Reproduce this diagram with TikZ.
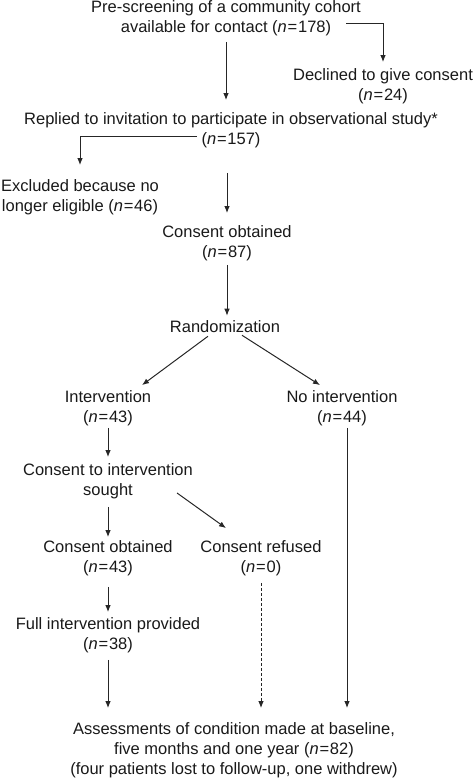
\documentclass[tikz,border=0pt]{standalone}
\usepackage{fontspec}
\setmainfont{Liberation Sans}
\usetikzlibrary{arrows.meta}
\newcommand{\nval}[1]{(\textit{n}\hspace{0.8pt}=\hspace{0.8pt}#1)}

\begin{document}
\begin{tikzpicture}[x=1pt, y=-1pt,
  every node/.style={align=center, inner sep=0pt, text=black!90,
    font=\fontsize{16.5}{20}\selectfont},
  arr/.style={draw=black!85, line width=1pt, -{Latex[length=7pt,width=5.5pt]}},
  toassess/.style={shorten >=14pt}]
  \useasboundingbox (0,0) rectangle (474,778);
  % screening stage
  \node (pre) at (226,18) {Pre-screening of a community cohort\\available for contact \nval{178}};
  \node (decl) at (383,86) {Declined to give consent\\\nval{24}};
  \node (repl) at (231,130) {Replied to invitation to participate in observational study*\\\nval{157}};
  \node (excl) at (80,197) {Excluded because no\\longer eligible \nval{46}};
  \node (cons) at (227,243) {Consent obtained\\\nval{87}};
  \node (rand) at (225,327) {Randomization};
  % the two arms
  \node (interv) at (108,408) {Intervention\\\nval{43}};
  \node (nointerv) at (342,408) {No intervention\\\nval{44}};
  \node (sought) at (108,481) {Consent to intervention\\sought};
  \node (cobt) at (108,558) {Consent obtained\\\nval{43}};
  \node (cref) at (261,558) {Consent refused\\\nval{0}};
  \node (full) at (108,635) {Full intervention provided\\\nval{38}};
  \node (assess) at (234,750) {Assessments of condition made at baseline,\\five months and one year \nval{82}\\(four patients lost to follow-up, one withdrew)};

  \draw[arr, shorten <=6pt, shorten >=12pt] (pre.south) -- (pre.south |- repl.north);
  \draw[arr, shorten >=6pt] ([xshift=-15pt,yshift=-6pt]pre.east) -| (decl.north);
  \draw[arr, shorten >=14pt] ([xshift=-34pt,yshift=-7pt]repl.center) -| (excl.north);
  \draw[arr, shorten <=25pt, shorten >=12pt] (repl.south -| cons.north) -- (cons.north);
  \draw[arr, shorten <=4pt, shorten >=5pt] (cons.south) -- (cons.south |- rand.north);
  \draw[arr] ([xshift=-17pt,yshift=-3pt]rand.south) -- ([xshift=34pt,yshift=5pt]interv.north);
  \draw[arr] ([xshift=17pt,yshift=-2pt]rand.south) -- ([xshift=-22pt,yshift=5pt]nointerv.north);
  \draw[arr, shorten <=2pt, shorten >=6pt] (interv.south) -- (sought.north);
  \draw[arr, shorten <=8pt, shorten >=3pt] (sought.south) -- (cobt.north);
  \draw[arr] ([xshift=-16pt,yshift=-12pt]sought.east) -- ([xshift=-35pt,yshift=12pt]cref.north);
  \draw[arr, shorten <=11pt, shorten >=5pt] (cobt.south) -- (full.north);
  \draw[arr, toassess, shorten <=7pt] (full.south) -- (full.south |- assess.north);
  \draw[arr, toassess, shorten <=7pt, dash pattern=on 3pt off 2pt] (cref.south) -- (cref.south |- assess.north);
  \draw[arr, toassess, shorten <=2pt] ([xshift=5pt]nointerv.south) -- ([xshift=5pt]nointerv.south |- assess.north);
\end{tikzpicture}
\end{document}
